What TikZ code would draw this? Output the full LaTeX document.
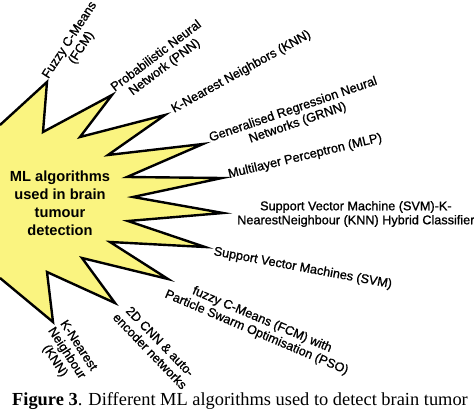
\documentclass[tikz,border=0pt]{standalone}
\usepackage{fontspec}
\setmainfont{Liberation Serif}
\newfontfamily\lblfont{Liberation Sans}[FakeBold=1]
\newfontfamily\corefont{Liberation Sans}
\usepackage{tikz}
\usetikzlibrary{positioning}
\definecolor{starYellow}{RGB}{250,244,128}

\begin{document}
\begin{tikzpicture}[x=0.75pt, y=-0.75pt]
		\tikzstyle{algo}=[font=\lblfont\fontsize{9.5}{10.5}\selectfont, text=black, inner sep=0pt, align=center]
		\tikzstyle{rim}=[draw=black, line width=1.8pt, line join=miter]
		
		\useasboundingbox (0,0) rectangle (474,417);
		
		\coordinate (tipFcm) at (47,82);
		\coordinate (tipPnn) at (112,95);
		\coordinate (tipKnnA) at (165,115);
		\coordinate (tipGrnn) at (203,144);
		\coordinate (tipMlp) at (222,178);
		\coordinate (tipHybrid) at (223,213);
		\coordinate (tipSvm) at (205,247);
		\coordinate (tipPso) at (168,279);
		\coordinate (tipCnn) at (115,303);
		\coordinate (tipKnnB) at (53,322);
		
		\fill[starYellow] (0,125) -- (tipFcm) -- (43,132) -- (tipPnn) -- (80,137) -- (tipKnnA) -- (108,155) -- (tipGrnn) -- (127,177) -- (tipMlp) -- (133,197) -- (tipHybrid) -- (128,221) -- (tipSvm) -- (110,242) -- (tipPso) -- (82,258) -- (tipCnn) -- (47,272) -- (tipKnnB) -- (0,278) -- cycle;
		\draw[rim] (0,125) -- (tipFcm) -- (43,132) -- (tipPnn) -- (80,137) -- (tipKnnA) -- (108,155) -- (tipGrnn) -- (127,177) -- (tipMlp) -- (133,197) -- (tipHybrid) -- (128,221) -- (tipSvm) -- (110,242) -- (tipPso) -- (82,258) -- (tipCnn) -- (47,272) -- (tipKnnB) -- (0,278);
		
		\node (mlCore) at (60,203) [font=\corefont\bfseries\fontsize{11}{13.5}\selectfont, align=center, inner sep=0pt] {ML algorithms\\used in brain\\tumour\\detection};
		
		\node (lblFcm) at ([shift={(13,5)}]tipFcm) [algo, rotate=57, anchor=base west] {Fuzzy C-Means\\(FCM)};
		\node (lblPnn) at ([shift={(11,8)}]tipPnn) [algo, rotate=37, anchor=base west] {Probabilistic Neural\\Network (PNN)};
		\node (lblKnnA) at ([shift={(9,-2)}]tipKnnA) [algo, rotate=29, anchor=base west] {K-Nearest Neighbors (KNN)};
		\node (lblGrnn) at ([shift={(12,11)}]tipGrnn) [algo, rotate=19, anchor=base west] {Generalised Regression Neural\\Networks (GRNN)};
		\node (lblMlp) at ([shift={(7,0)}]tipMlp) [algo, rotate=13.5, anchor=base west] {Multilayer Perceptron (MLP)};
		\node (lblHybrid) at ([shift={(14,1)}]tipHybrid) [algo, anchor=west] {Support Vector Machine (SVM)-K-\\NearestNeighbour (KNN) Hybrid Classifier};
		\node (lblSvm) at ([shift={(8,8)}]tipSvm) [algo, rotate=-10.5, anchor=base west] {Support Vector Machines (SVM)};
		\node (lblPso) at ([shift={(-4,18)}]tipPso) [algo, rotate=-23, anchor=base west] {fuzzy C-Means (FCM) with\\Particle Swarm Optimisation (PSO)};
		\node (lblCnn) at ([shift={(-3,15)}]tipCnn) [algo, rotate=-46, anchor=base west] {2D CNN \& auto-\\encoder networks};
		\node (lblKnnB) at ([shift={(-17,16)}]tipKnnB) [algo, rotate=-57, anchor=base west] {K-Nearest\\Neighbour\\(KNN)};
		
		\node (figCap) at (240,401) [font=\fontsize{13.8}{16}\selectfont, inner sep=0pt] {\textbf{Figure 3}. Different ML algorithms used to detect brain tumor};
		
\end{tikzpicture}
\end{document}
